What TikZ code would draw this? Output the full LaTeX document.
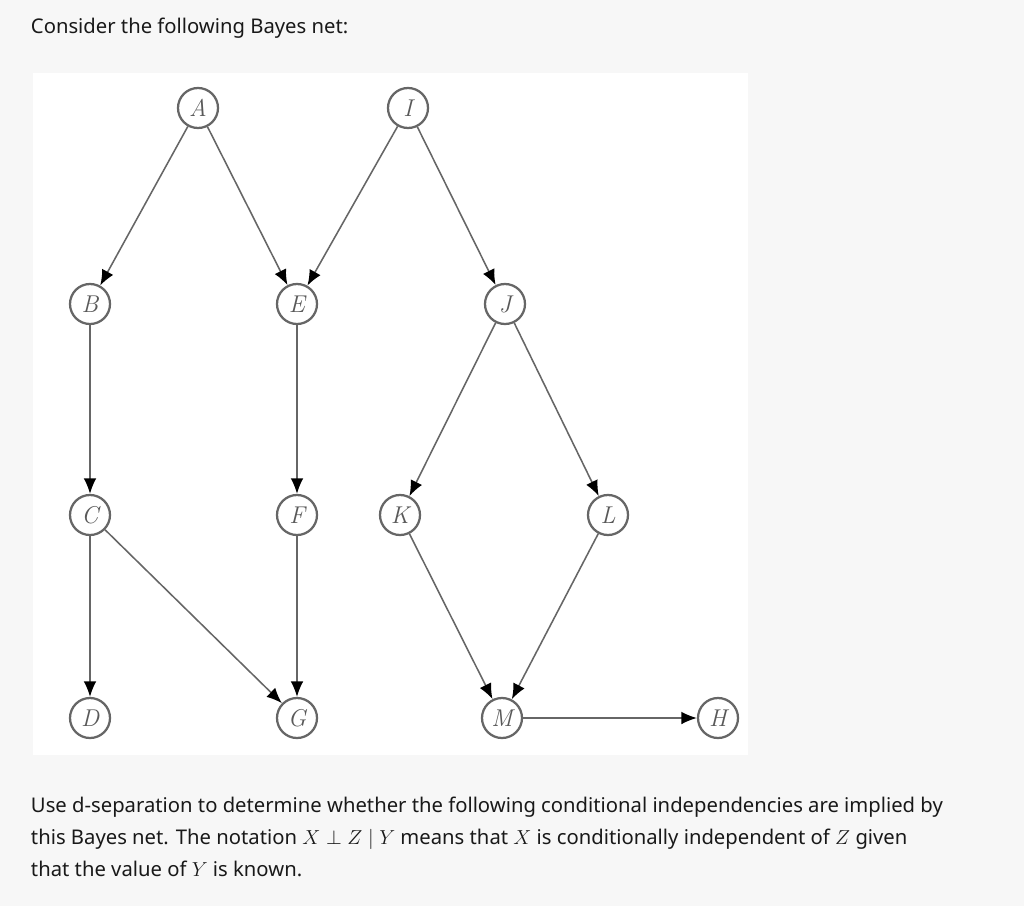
\documentclass[tikz,border=0pt]{standalone}
\usepackage{fontspec}
\setsansfont{Noto Sans}
\usetikzlibrary{arrows.meta}
\definecolor{bg}{HTML}{F7F7F7}
\definecolor{edge}{HTML}{666666}
\begin{document}
\begin{tikzpicture}[x=0.025cm,y=-0.025cm,
  bn/.style={circle,draw=edge,line width=1.6pt,fill=white,minimum size=1.0cm,inner sep=0pt,font=\LARGE\itshape\color{black!65}},
  ar/.style={draw=edge,line width=1.1pt,-{Latex[length=11pt,width=9pt,black]}},
  txt/.style={anchor=west,font=\sffamily\fontsize{14.4}{22.7}\selectfont,align=left,text=black!90}]
\fill[bg] (0,0) rectangle (1024,906);
\useasboundingbox (0,0) rectangle (1024,906);
\fill[white] (33,73) rectangle (748,755);
\node[txt] (t1) at (26,28) {Consider the following Bayes net:};
\node[txt,anchor=north west] (t2) at (26,792) {Use d-separation to determine whether the following conditional independencies are implied by\\ this Bayes net. The notation $X\perp Z\mid Y$ means that $X$ is conditionally independent of $Z$ given\\ that the value of $Y$ is known.};
\node[bn] (A) at (198,108) {A};
\node[bn] (I) at (408,108) {I};
\node[bn] (B) at (90,304) {B};
\node[bn] (E) at (297,304) {E};
\node[bn] (J) at (505,304) {J};
\node[bn] (C) at (90,515) {C};
\node[bn] (F) at (297,515) {F};
\node[bn] (K) at (400,515) {K};
\node[bn] (L) at (608,515) {L};
\node[bn] (D) at (90,718) {D};
\node[bn] (G) at (297,718) {G};
\node[bn] (M) at (502,718) {M};
\node[bn] (H) at (718,718) {H};
\foreach \a/\b in {A/B,A/E,I/E,I/J,B/C,E/F,J/K,J/L,C/D,C/G,F/G,K/M,L/M,M/H}
  \draw[ar] (\a) -- (\b);
\end{tikzpicture}
\end{document}
